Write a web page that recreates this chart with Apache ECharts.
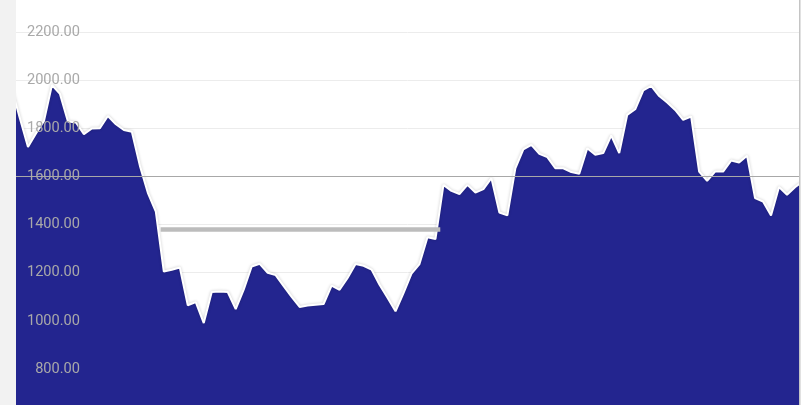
<!DOCTYPE html>
<html>
<head>
<meta charset="utf-8">
<script src="https://cdn.jsdelivr.net/npm/echarts@6/dist/echarts.min.js"></script>
<style>
html,body{margin:0;padding:0;background:#fff;}
#chart{width:802px;height:405px;}
</style>
</head>
<body>
<div id="chart"></div>
<script>
// x positions (day index) and values
const dayIndex = [-1,0,1,2,3,4,5,6,7,8,9,10,11,12,13,14,15,16,17,18,19,20,21,22,23,24,25,26,27,28,29,30,31,32,33,34,35,36,37,38,39,40,41,42,43,44,45,46,47,48,49,50,51,52,53,54,55,56,57,58,59,60,61,62,63,64,65,66,67,68,69,70,71,72,73,74,75,76,77,78,79,80,81,82,83,84,85,86,87,88,89,90,91,92,93,94,95,96,97,98];
const values = [1960,1840,1722,1778,1830,1980,1943,1828,1824,1776,1799,1800,1851,1817,1793,1786,1645,1532,1454,1205,1212,1222,1065,1078,991,1120,1122,1120,1049,1130,1226,1237,1200,1190,1144,1100,1058,1064,1067,1070,1146,1129,1178,1236,1229,1213,1150,1096,1040,1115,1196,1236,1347,1340,1565,1540,1527,1565,1533,1547,1593,1450,1438,1634,1712,1731,1694,1680,1634,1634,1618,1611,1717,1690,1697,1770,1697,1856,1879,1957,1976,1934,1907,1876,1835,1849,1620,1582,1620,1620,1666,1658,1686,1510,1496,1438,1556,1524,1555,1580];
const limitValue = 1600;
const rangeLine = {start: 17.6, end: 52.6, value: 1380};
const yTicks = {min: 600, max: 2400, interval: 200};

const seriesData = dayIndex.map((d, i) => [d, values[i]]);

const chart = echarts.init(document.getElementById('chart'), null, {renderer: 'canvas'});
const labelStyle = {
  color: '#a9a9a9',
  fontFamily: 'Roboto',
  fontSize: 14.6,
  margin: -64,
  formatter: v => v.toFixed(2)
};
chart.setOption({
  backgroundColor: '#fff',
  animation: false,
  graphic: [
    {type: 'rect', left: 0, top: 0, shape: {width: 16, height: 405}, style: {fill: '#f2f2f2'}, z: 100},
    {type: 'rect', left: 799, top: 0, shape: {width: 1.5, height: 405}, style: {fill: '#c4c4c4'}, z: 100}
  ],
  grid: {
    left: 16, right: 3, top: -16.14, bottom: -12.14,
    containLabel: false, outerBoundsMode: 'none',
    show: true, backgroundColor: '#fff', borderWidth: 0
  },
  xAxis: {
    type: 'value', min: -0.5, max: 97.5, offset: -13,
    axisLine: {show: true, lineStyle: {color: '#3a3a4a', width: 1.5}},
    axisTick: {show: false}, axisLabel: {show: false}, splitLine: {show: false}
  },
  yAxis: [
    {
      type: 'value', min: yTicks.min, max: yTicks.max, interval: yTicks.interval,
      axisLine: {show: false}, axisTick: {show: false}, axisLabel: {show: false},
      splitLine: {show: true, lineStyle: {color: '#ececec', width: 1}}
    },
    {
      type: 'value', position: 'left', min: yTicks.min, max: yTicks.max, interval: yTicks.interval,
      z: 10,
      axisLine: {show: false}, axisTick: {show: false},
      splitLine: {show: false},
      axisLabel: labelStyle
    }
  ],
  series: [{
    type: 'line',
    yAxisIndex: 0,
    data: seriesData,
    showSymbol: false,
    clip: true,
    lineStyle: {color: '#ffffff', width: 2, shadowColor: 'rgba(0,0,0,0.22)', shadowBlur: 3},
    areaStyle: {color: '#23258f', opacity: 1, origin: 'start'},
    markLine: {
      silent: true,
      symbol: ['none', 'none'],
      label: {show: false},
      data: [
        {yAxis: limitValue, lineStyle: {color: '#a8a8a8', width: 1.2, type: 'solid'}},
        [
          {coord: [rangeLine.start, rangeLine.value], lineStyle: {color: '#bcbcbc', width: 4.5, type: 'solid', cap: 'butt'}},
          {coord: [rangeLine.end, rangeLine.value]}
        ]
      ]
    }
  }]
});
</script>
</body>
</html>
